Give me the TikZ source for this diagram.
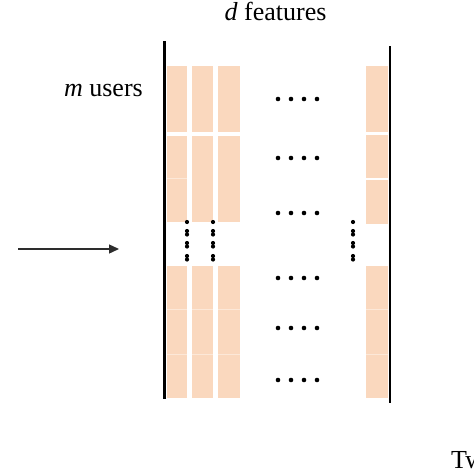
\documentclass[tikz,border=0pt]{standalone}
\usepackage{fontspec}
\setmainfont{Liberation Serif}
\usetikzlibrary{arrows.meta}
\definecolor{peach}{RGB}{250,216,190}
\definecolor{seam}{RGB}{252,232,216}
\tikzset{
  cell/.style={fill=peach,draw=none},
  seamline/.style={draw=seam,line width=0.8pt},
  bar/.style={draw=black,line width=2.6pt},
  rbar/.style={draw=black,line width=2pt},
  hdot/.style={fill=black,draw=none},
  lbl/.style={font=\fontsize{26}{31}\selectfont,inner sep=0pt},
  arr/.style={draw={rgb,255:red,45;green,45;blue,45},line width=1.4pt,-{Triangle[length=10pt,width=9pt]}}
}
\begin{document}
\begin{tikzpicture}[x=1pt,y=-1pt]
\useasboundingbox (0,0) rectangle (474,474);
\clip (0,0) rectangle (474,474);
% cells
\foreach \xa/\xb in {167/187,192/213,218/240}{
  \fill[cell] (\xa,66) rectangle (\xb,132);
  \fill[cell] (\xa,136) rectangle (\xb,222);
  \fill[cell] (\xa,266) rectangle (\xb,398);
  \draw[seamline] (\xa,309.5) -- (\xb,309.5);
  \draw[seamline] (\xa,354.5) -- (\xb,354.5);
}
\draw[seamline] (167,178.5) -- (187,178.5);
\fill[cell] (366,66) rectangle (388,132);
\fill[cell] (366,135) rectangle (388,178);
\fill[cell] (366,180) rectangle (388,224);
\fill[cell] (366,266) rectangle (388,398);
\draw[seamline] (366,309.5) -- (388,309.5);
\draw[seamline] (366,354.5) -- (388,354.5);
% bars
\coordinate (lt) at (164.5,41);
\coordinate (lb) at (164.5,399);
\coordinate (rt) at (390,46);
\coordinate (rb) at (390,403);
\draw[bar] (lt) -- (lb);
\draw[rbar] (rt) -- (rb);
% horizontal dots
\foreach \y in {99,158,213,278,328,380}{
  \foreach \x in {278,291,304,317}{
    \fill[hdot] (\x,\y) circle (2.3pt);
  }
}
% vertical dots
\foreach \x in {187,213,353}{
  \foreach \y in {222,231,234.5,243,246.5,256,259.5}{
    \fill[hdot] (\x,\y) circle (2.1pt);
  }
}
% labels
\node[lbl,anchor=base] (feat) at (275.5,20) {\textit{d} features};
\node[lbl,anchor=base east] (users) at (143,96) {\textit{m} users};
\node[lbl,anchor=base west] (tw) at (451,468) {Tw};
% arrow
\coordinate (as) at (18,249);
\coordinate (ae) at (119,249);
\draw[arr] (as) -- (ae);
\end{tikzpicture}
\end{document}
